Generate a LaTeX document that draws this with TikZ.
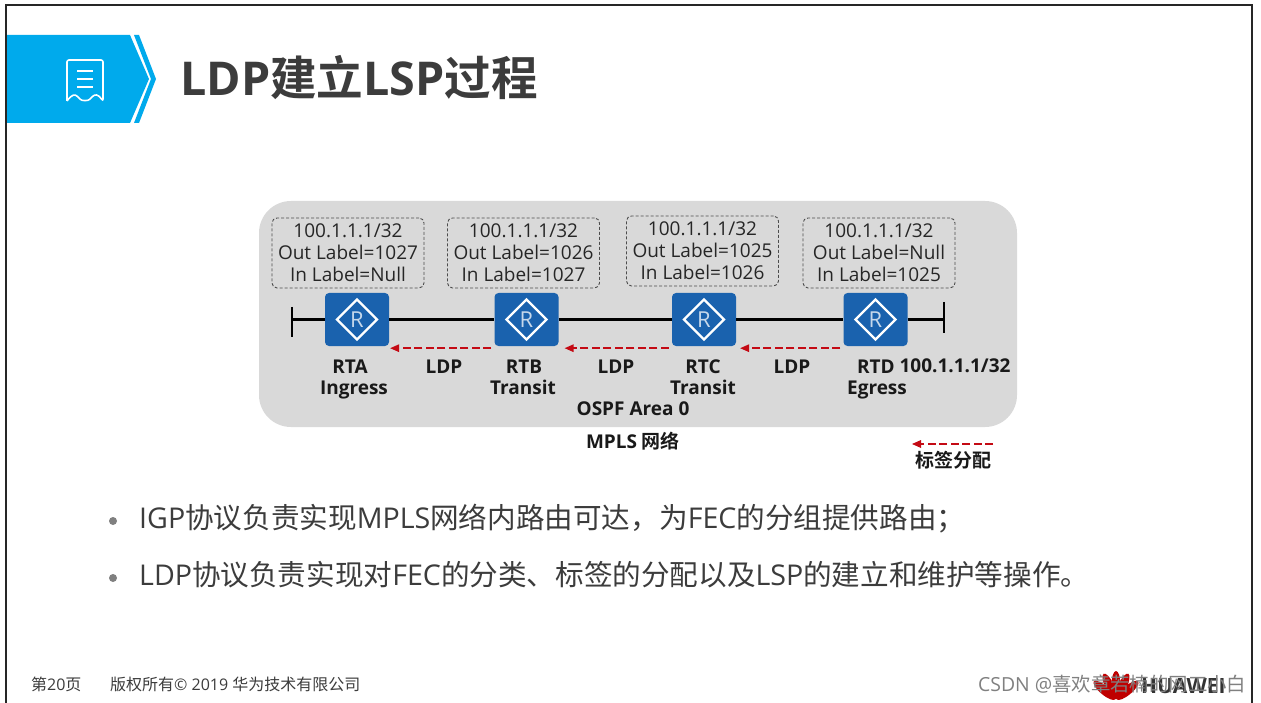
\documentclass[tikz,border=0pt]{standalone}
\usepackage{fontspec}
\usepackage{xcolor}
\usepackage{tikz}
\usetikzlibrary{shapes.geometric}
\setmainfont{Open Sans}
\newfontfamily\cjk{Noto Sans CJK SC}[BoldFont=* Bold]
\definecolor{bandblue}{HTML}{00AAEC}
\definecolor{routerblue}{HTML}{1A62AE}
\definecolor{areagray}{HTML}{D9D9D9}
\definecolor{inkgray}{HTML}{3C3C3C}
\definecolor{ldpred}{HTML}{C40A14}
\newcommand{\fs}[1]{\fontsize{#1}{#1}\selectfont}
\tikzset{
  routerbox/.style={fill=routerblue,rounded corners=4pt,minimum width=64pt,minimum height=53pt,inner sep=0pt},
  routermark/.style={diamond,draw=white,line width=2.2pt,minimum width=41pt,minimum height=41pt,inner sep=0pt,text=white!75!routerblue,font=\fs{22}},
  labelbox/.style={draw=black!70,line width=.9pt,dash pattern=on 3pt off 2pt,rounded corners=5pt,minimum width=152pt,minimum height=70pt,inner sep=0pt,align=center,text=black!85,font=\fs{19}\linespread{1.16}\selectfont},
  netlabel/.style={anchor=base,font=\bfseries\fs{19},text=black!90,align=center,inner sep=0pt},
  link/.style={line width=2.2pt,black},
  ldparrow/.style={draw=ldpred,line width=2.4pt,dash pattern=on 8pt off 3.5pt},
  arrowhead/.style={fill=ldpred,draw=none},
  bodytext/.style={anchor=base west,inner sep=0pt,text=inkgray,font=\fs{28.6}},
  foottext/.style={anchor=base west,inner sep=0pt,text=inkgray,font=\fs{16}},
}
\begin{document}
\begin{tikzpicture}[x=1pt,y=-1pt]
  \useasboundingbox (0,0) rectangle (1261,703);
  \fill[white] (0,0) rectangle (1261,703);
  \draw[line width=2pt,black!85] (6,703) -- (6,5.5) -- (1252,5.5) -- (1252,703);
  % title band
  \fill[bandblue] (7,35) -- (130,35) -- (149,79) -- (130,123) -- (7,123) -- cycle;
  \fill[bandblue] (134,35) -- (139,35) -- (156,79) -- (139,123) -- (134,123) -- (151,79) -- cycle;
  \draw[white,line width=1.6pt,rounded corners=2pt] (67,101) -- (67,60) -- (103,60) -- (103,101)
     .. controls (98,94) and (95,94) .. (91,98) .. controls (88,101) and (82,101) .. (79,98) .. controls (75,94) and (72,94) .. (67,101);
  \draw[white,line width=1.6pt] (77,71) -- (93,71) (77,79) -- (93,79) (77,87) -- (93,87);
  \node[anchor=base west,inner sep=0pt,text=inkgray,font=\bfseries\fs{46.6}] (title) at (180,96) {LDP{\cjk 建立}LSP{\cjk 过程}};
  % network area
  \fill[areagray,rounded corners=32pt] (259,201) rectangle (1017,427);
  \node[labelbox] (boxa) at (348,253) {100.1.1.1/32\\Out Label=1027\\In Label=Null};
  \node[labelbox] (boxb) at (523.5,253) {100.1.1.1/32\\Out Label=1026\\In Label=1027};
  \node[labelbox] (boxc) at (702.5,251) {100.1.1.1/32\\Out Label=1025\\In Label=1026};
  \node[labelbox] (boxd) at (879,253) {100.1.1.1/32\\Out Label=Null\\In Label=1025};
  \node[routerbox] (rta) at (357,319.5) {};
  \node[routerbox] (rtb) at (526.5,319.5) {};
  \node[routerbox] (rtc) at (704,319.5) {};
  \node[routerbox] (rtd) at (875.5,319.5) {};
  \foreach \r/\name in {rta/marka,rtb/markb,rtc/markc,rtd/markd}
    \node[routermark] (\name) at (\r) {R};
  \coordinate (capa) at (292,319.5);
  \coordinate (capd) at (944,319.5);
  \draw[link] (capa) -- (rta);
  \draw[link] (rta) -- (rtb);
  \draw[link] (rtb) -- (rtc);
  \draw[link] (rtc) -- (rtd);
  \draw[link] (rtd) -- (capd);
  \draw[link] (292,307) -- (292,337);
  \draw[link] (944,302) -- (944,333);
  % label distribution
  \draw[ldparrow] ([shift={(-3,2)}]rtb.south west) -- ([shift={(8,2)}]rta.south east);
  \draw[ldparrow] ([shift={(-3,2)}]rtc.south west) -- ([shift={(13,2)}]rtb.south east);
  \draw[ldparrow] ([shift={(-3,2)}]rtd.south west) -- ([shift={(11,2)}]rtc.south east);
  \fill[arrowhead] ([shift={(1,2)}]rta.south east) -- ++(9,-4) -- ++(0,8) -- cycle;
  \fill[arrowhead] ([shift={(6,2)}]rtb.south east) -- ++(9,-4) -- ++(0,8) -- cycle;
  \fill[arrowhead] ([shift={(4,2)}]rtc.south east) -- ++(9,-4) -- ++(0,8) -- cycle;
  \node[netlabel] (lblrta) at (350,373) {RTA};
  \node[netlabel] (lblingress) at (354,394) {Ingress};
  \node[netlabel] (lblrtb) at (524,373) {RTB};
  \node[netlabel] (lbltransitb) at (523,394) {Transit};
  \node[netlabel] (lblrtc) at (703,373) {RTC};
  \node[netlabel] (lbltransitc) at (703,394) {Transit};
  \node[netlabel] (lblrtd) at (876,373) {RTD};
  \node[netlabel] (lblegress) at (877,394) {Egress};
  \node[netlabel] (lblprefix) at (955,372) {100.1.1.1/32};
  \node[netlabel] (ldpa) at (444,373) {LDP};
  \node[netlabel] (ldpb) at (616,373) {LDP};
  \node[netlabel] (ldpc) at (792,373) {LDP};
  \node[netlabel] (lblospf) at (633,415) {OSPF Area 0};
  \node[netlabel] (lblmpls) at (633,448) {MPLS {\cjk 网络}};
  % legend
  \coordinate (legstart) at (993,444);
  \coordinate (legend) at (920,444);
  \draw[ldparrow] (legstart) -- (legend);
  \fill[arrowhead] (912,444) -- ++(9,-4) -- ++(0,8) -- cycle;
  \node[netlabel] (lbllegend) at (953,467) {\cjk 标签分配};
  % bullets
  \fill[gray] (113,521) circle (4);
  \fill[gray] (113,578) circle (4);
  \node[bodytext] (igptext) at (139,528) {IGP{\cjk 协议负责实现}MPLS{\cjk 网络内路由可达，为}FEC{\cjk 的分组提供路由；}};
  \node[bodytext] (ldptext) at (139,585) {LDP{\cjk 协议负责实现对}FEC{\cjk 的分类、标签的分配以及}LSP{\cjk 的建立和维护等操作。}};
  % footer
  \node[foottext] (pagetext) at (31,690) {{\cjk 第}20{\cjk 页}};
  \node[foottext] (copytext) at (110,690) {{\cjk 版权所有}© 2019 {\cjk 华为技术有限公司}};
  \foreach \a in {-50,-25,0,25,50}
    \fill[red!75!black,rotate around={\a:(1116,700)}] (1116,685) ellipse (4.5 and 14);
  \node[anchor=base west,inner sep=0pt,text=black!80,font=\bfseries\fs{21}] (logotext) at (1141,693) {HUAWEI};
  \node[anchor=base west,inner sep=0pt,text=black!50,font=\fs{19.4}] (marktext) at (978,691) {CSDN @{\cjk 喜欢章若楠的网工小白}};
\end{tikzpicture}
\end{document}
